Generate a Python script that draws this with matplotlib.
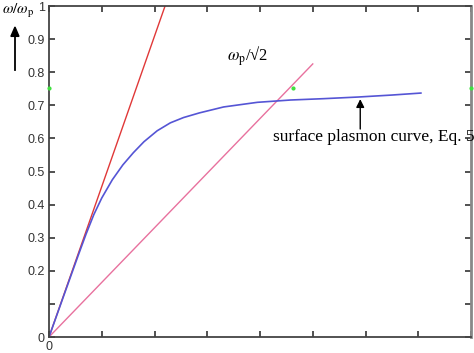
import matplotlib.pyplot as plt

# Valores (eje x en unidades arbitrarias 0..8)
luz_x = [0, 2.2]
luz_y = [0, 1.0]

linea_x = [0, 5.0]
linea_y = [0, 0.825]

sp_x = [0, 0.3, 0.55, 0.7, 0.85, 1.0, 1.2, 1.4, 1.6, 1.8, 2.05, 2.3, 2.55,
        2.85, 3.31, 3.95, 4.58, 5.2, 5.86, 6.5, 7.05]
sp_y = [0, 0.134, 0.245, 0.31, 0.37, 0.42, 0.475, 0.52, 0.557, 0.59, 0.623,
        0.647, 0.663, 0.677, 0.695, 0.709, 0.716, 0.720, 0.725, 0.731, 0.737]

verde_x = [0, 4.62, 8]
verde_y = [0.752, 0.752, 0.752]

y_ticks = [0, 0.1, 0.2, 0.3, 0.4, 0.5, 0.6, 0.7, 0.8, 0.9, 1]
y_labels = ['0', '', '0.2', '0.3', '0.4', '0.5', '0.6', '0.7', '0.8', '0.9', '1']
x_ticks = [0, 1, 2, 3, 4, 5, 6, 7, 8]
x_labels = ['0', '', '', '', '', '', '', '', '']

fig = plt.figure(figsize=(4.74, 3.53), dpi=100)
ax = fig.add_axes([0.1034, 0.0453, 0.8903, 0.9377])

ax.plot(luz_x, luz_y, color='#e03838', lw=1.0)
ax.plot(linea_x, linea_y, color='#e8719e', lw=1.0)
ax.plot(sp_x, sp_y, color='#5555d5', lw=1.2)
ax.scatter(verde_x, verde_y, color='#40e040', s=4, zorder=5, clip_on=False)

ax.set_xlim(0, 8)
ax.set_ylim(0, 1)
ax.set_yticks(y_ticks)
ax.set_yticklabels(y_labels)
ax.set_xticks(x_ticks)
ax.set_xticklabels(x_labels)
ax.tick_params(direction='in', top=True, right=True, length=4, width=1.2,
               color='#333333', labelcolor='#333333', labelsize=9, pad=3)
ax.tick_params(axis='x', pad=3)
for lab in ax.get_xticklabels() + ax.get_yticklabels():
    lab.set_family('Liberation Sans')

for s in ['left', 'bottom', 'top']:
    ax.spines[s].set_color('#444444')
    ax.spines[s].set_linewidth(1.3)
ax.spines['right'].set_color('#888888')
ax.spines['right'].set_linewidth(2.0)

# Textos y flechas
fig.text(0.004, 0.962, r'$\omega/\omega_\mathrm{p}$', fontsize=11,
         math_fontfamily='stix')
fig.add_artist(plt.Line2D([0.0316, 0.0316], [0.802, 0.90], color='black', lw=1.3,
                          transform=fig.transFigure))
fig.add_artist(plt.Polygon([[0.023, 0.897], [0.040, 0.897], [0.0316, 0.9235]],
                           closed=True, color='black', transform=fig.transFigure))

ax.text(3.38, 0.835, r'$\omega_\mathrm{p}$/√2', fontsize=12,
        family='Liberation Serif', math_fontfamily='stix')
ax.annotate('', xy=(5.9, 0.727), xytext=(5.9, 0.62),
            arrowprops=dict(arrowstyle='-|>', color='black', lw=1.0,
                            mutation_scale=12))
ax.text(4.25, 0.605, 'surface plasmon curve, Eq. 5', fontsize=12.5,
        family='Liberation Serif', ha='left', va='center', clip_on=False)

fig.savefig('out.png', dpi=100)
